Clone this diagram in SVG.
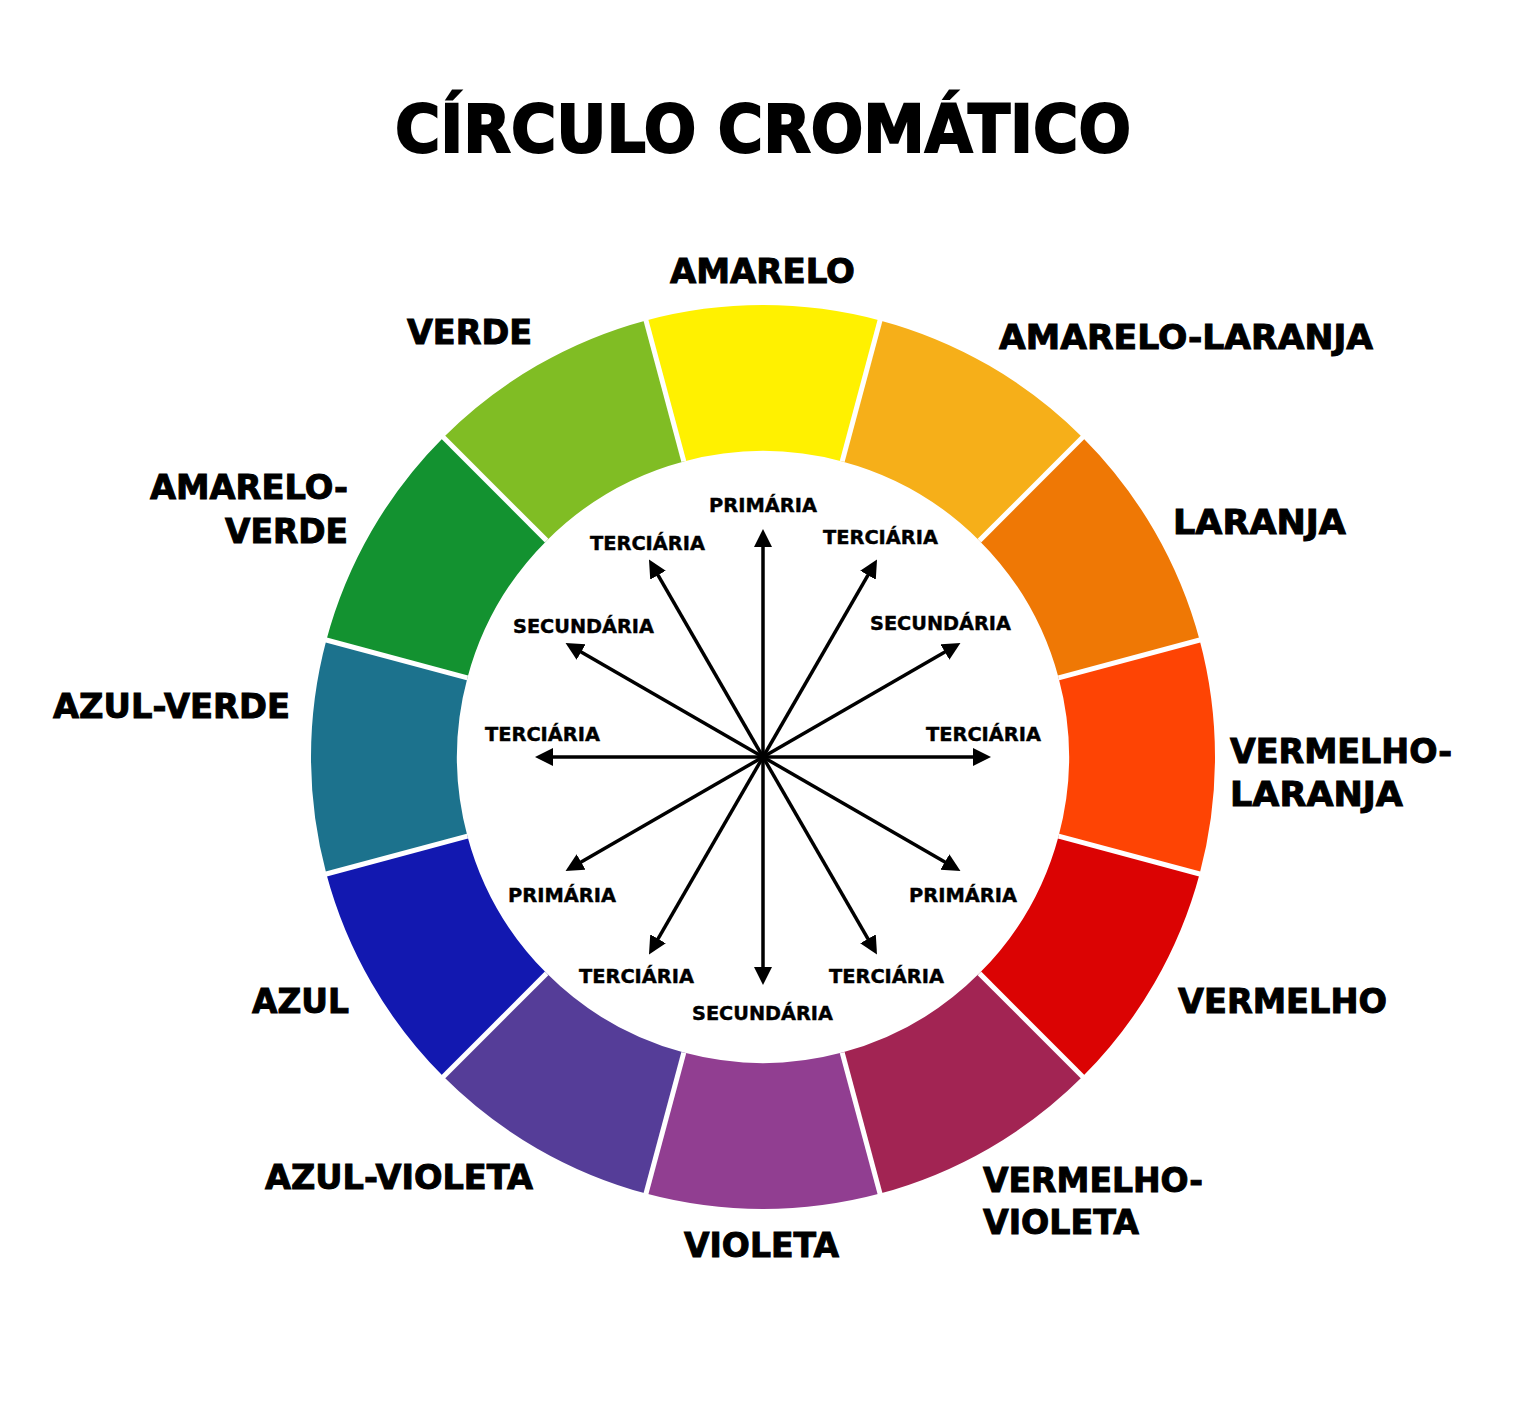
<svg xmlns="http://www.w3.org/2000/svg" width="1536" height="1410" viewBox="0 0 1536 1410">
<defs>
<style>
text{font-family:"DejaVu Sans","Liberation Sans",sans-serif;font-weight:bold;fill:#000;stroke:#000}
.title{font-size:66px;stroke-width:2}
.lbl{font-size:34px;stroke-width:1}
.sm{font-size:19px;stroke-width:0.4}
.sep{stroke:#fff;stroke-width:5}
.arr{stroke:#000;stroke-width:3.5;fill:none;marker-end:url(#ah)}
</style>
<marker id="ah" markerUnits="userSpaceOnUse" markerWidth="20" markerHeight="20" refX="2" refY="9" orient="auto">
<path d="M0,0 L18,9 L0,18 Z" fill="#000"/>
</marker>
</defs>
<rect width="1536" height="1410" fill="#fff"/>
<text class="title" x="395" y="152" textLength="736" lengthAdjust="spacingAndGlyphs">CÍRCULO CROMÁTICO</text>

<g id="wheel">
<path id="seg-amarelo" fill="#FFF100" d="M646.01,320.40 A452,452 0 0 1 879.99,320.40 L842.20,461.43 A306,306 0 0 0 683.80,461.43 Z"/>
<path id="seg-amarelo-laranja" fill="#F6AF19" d="M879.99,320.40 A452,452 0 0 1 1082.61,437.39 L979.37,540.63 A306,306 0 0 0 842.20,461.43 Z"/>
<path id="seg-laranja" fill="#EF7805" d="M1082.61,437.39 A452,452 0 0 1 1199.60,640.01 L1058.57,677.80 A306,306 0 0 0 979.37,540.63 Z"/>
<path id="seg-vermelho-laranja" fill="#FE4404" d="M1199.60,640.01 A452,452 0 0 1 1199.60,873.99 L1058.57,836.20 A306,306 0 0 0 1058.57,677.80 Z"/>
<path id="seg-vermelho" fill="#DB0303" d="M1199.60,873.99 A452,452 0 0 1 1082.61,1076.61 L979.37,973.37 A306,306 0 0 0 1058.57,836.20 Z"/>
<path id="seg-vermelho-violeta" fill="#A22453" d="M1082.61,1076.61 A452,452 0 0 1 879.99,1193.60 L842.20,1052.57 A306,306 0 0 0 979.37,973.37 Z"/>
<path id="seg-violeta" fill="#913E91" d="M879.99,1193.60 A452,452 0 0 1 646.01,1193.60 L683.80,1052.57 A306,306 0 0 0 842.20,1052.57 Z"/>
<path id="seg-azul-violeta" fill="#553D98" d="M646.01,1193.60 A452,452 0 0 1 443.39,1076.61 L546.63,973.37 A306,306 0 0 0 683.80,1052.57 Z"/>
<path id="seg-azul" fill="#1218B0" d="M443.39,1076.61 A452,452 0 0 1 326.40,873.99 L467.43,836.20 A306,306 0 0 0 546.63,973.37 Z"/>
<path id="seg-azul-verde" fill="#1C728D" d="M326.40,873.99 A452,452 0 0 1 326.40,640.01 L467.43,677.80 A306,306 0 0 0 467.43,836.20 Z"/>
<path id="seg-amarelo-verde" fill="#139230" d="M326.40,640.01 A452,452 0 0 1 443.39,437.39 L546.63,540.63 A306,306 0 0 0 467.43,677.80 Z"/>
<path id="seg-verde" fill="#80BD24" d="M443.39,437.39 A452,452 0 0 1 646.01,320.40 L683.80,461.43 A306,306 0 0 0 546.63,540.63 Z"/>
<g class="sep">
<line x1="683.80" y1="461.43" x2="644.97" y2="316.53"/>
<line x1="842.20" y1="461.43" x2="881.03" y2="316.53"/>
<line x1="979.37" y1="540.63" x2="1085.44" y2="434.56"/>
<line x1="1058.57" y1="677.80" x2="1203.47" y2="638.97"/>
<line x1="1058.57" y1="836.20" x2="1203.47" y2="875.03"/>
<line x1="979.37" y1="973.37" x2="1085.44" y2="1079.44"/>
<line x1="842.20" y1="1052.57" x2="881.03" y2="1197.47"/>
<line x1="683.80" y1="1052.57" x2="644.97" y2="1197.47"/>
<line x1="546.63" y1="973.37" x2="440.56" y2="1079.44"/>
<line x1="467.43" y1="836.20" x2="322.53" y2="875.03"/>
<line x1="467.43" y1="677.80" x2="322.53" y2="638.97"/>
<line x1="546.63" y1="540.63" x2="440.56" y2="434.56"/>
</g>
</g>

<g id="connectors">
<line class="arr" x1="763" y1="757" x2="763" y2="545"/>
<line class="arr" x1="763" y1="757" x2="869" y2="573.4"/>
<line class="arr" x1="763" y1="757" x2="946.6" y2="651"/>
<line class="arr" x1="763" y1="757" x2="975" y2="757"/>
<line class="arr" x1="763" y1="757" x2="946.6" y2="863"/>
<line class="arr" x1="763" y1="757" x2="869" y2="940.6"/>
<line class="arr" x1="763" y1="757" x2="763" y2="969"/>
<line class="arr" x1="763" y1="757" x2="657" y2="940.6"/>
<line class="arr" x1="763" y1="757" x2="579.4" y2="863"/>
<line class="arr" x1="763" y1="757" x2="551" y2="757"/>
<line class="arr" x1="763" y1="757" x2="579.4" y2="651"/>
<line class="arr" x1="763" y1="757" x2="657" y2="573.4"/>
</g>

<g id="inner-labels">
<text class="sm" x="709" y="512" textLength="108" lengthAdjust="spacingAndGlyphs">PRIMÁRIA</text>
<text class="sm" x="590" y="550" textLength="115" lengthAdjust="spacingAndGlyphs">TERCIÁRIA</text>
<text class="sm" x="823" y="544" textLength="115" lengthAdjust="spacingAndGlyphs">TERCIÁRIA</text>
<text class="sm" x="513" y="633" textLength="141" lengthAdjust="spacingAndGlyphs">SECUNDÁRIA</text>
<text class="sm" x="870" y="630" textLength="141" lengthAdjust="spacingAndGlyphs">SECUNDÁRIA</text>
<text class="sm" x="485" y="741" textLength="115" lengthAdjust="spacingAndGlyphs">TERCIÁRIA</text>
<text class="sm" x="926" y="741" textLength="115" lengthAdjust="spacingAndGlyphs">TERCIÁRIA</text>
<text class="sm" x="508" y="902" textLength="108" lengthAdjust="spacingAndGlyphs">PRIMÁRIA</text>
<text class="sm" x="909" y="902" textLength="108" lengthAdjust="spacingAndGlyphs">PRIMÁRIA</text>
<text class="sm" x="579" y="983" textLength="115" lengthAdjust="spacingAndGlyphs">TERCIÁRIA</text>
<text class="sm" x="829" y="983" textLength="115" lengthAdjust="spacingAndGlyphs">TERCIÁRIA</text>
<text class="sm" x="692" y="1020" textLength="141" lengthAdjust="spacingAndGlyphs">SECUNDÁRIA</text>
</g>

<g id="outer-labels">
<text class="lbl" x="670" y="283" textLength="185" lengthAdjust="spacingAndGlyphs">AMARELO</text>
<text class="lbl" x="407" y="344" textLength="125" lengthAdjust="spacingAndGlyphs">VERDE</text>
<text class="lbl" x="999" y="349" textLength="374" lengthAdjust="spacingAndGlyphs">AMARELO-LARANJA</text>
<text class="lbl" x="1173" y="534" textLength="173" lengthAdjust="spacingAndGlyphs">LARANJA</text>
<text class="lbl" x="150" y="499" textLength="198" lengthAdjust="spacingAndGlyphs">AMARELO-</text>
<text class="lbl" x="225" y="543" textLength="123" lengthAdjust="spacingAndGlyphs">VERDE</text>
<text class="lbl" x="53" y="718" textLength="237" lengthAdjust="spacingAndGlyphs">AZUL-VERDE</text>
<text class="lbl" x="1230" y="763" textLength="222" lengthAdjust="spacingAndGlyphs">VERMELHO-</text>
<text class="lbl" x="1230" y="806" textLength="173" lengthAdjust="spacingAndGlyphs">LARANJA</text>
<text class="lbl" x="1178" y="1013" textLength="209" lengthAdjust="spacingAndGlyphs">VERMELHO</text>
<text class="lbl" x="252" y="1013" textLength="97" lengthAdjust="spacingAndGlyphs">AZUL</text>
<text class="lbl" x="265" y="1189" textLength="268" lengthAdjust="spacingAndGlyphs">AZUL-VIOLETA</text>
<text class="lbl" x="983" y="1192" textLength="220" lengthAdjust="spacingAndGlyphs">VERMELHO-</text>
<text class="lbl" x="983" y="1234" textLength="156" lengthAdjust="spacingAndGlyphs">VIOLETA</text>
<text class="lbl" x="684" y="1257" textLength="155" lengthAdjust="spacingAndGlyphs">VIOLETA</text>
</g>
</svg>
